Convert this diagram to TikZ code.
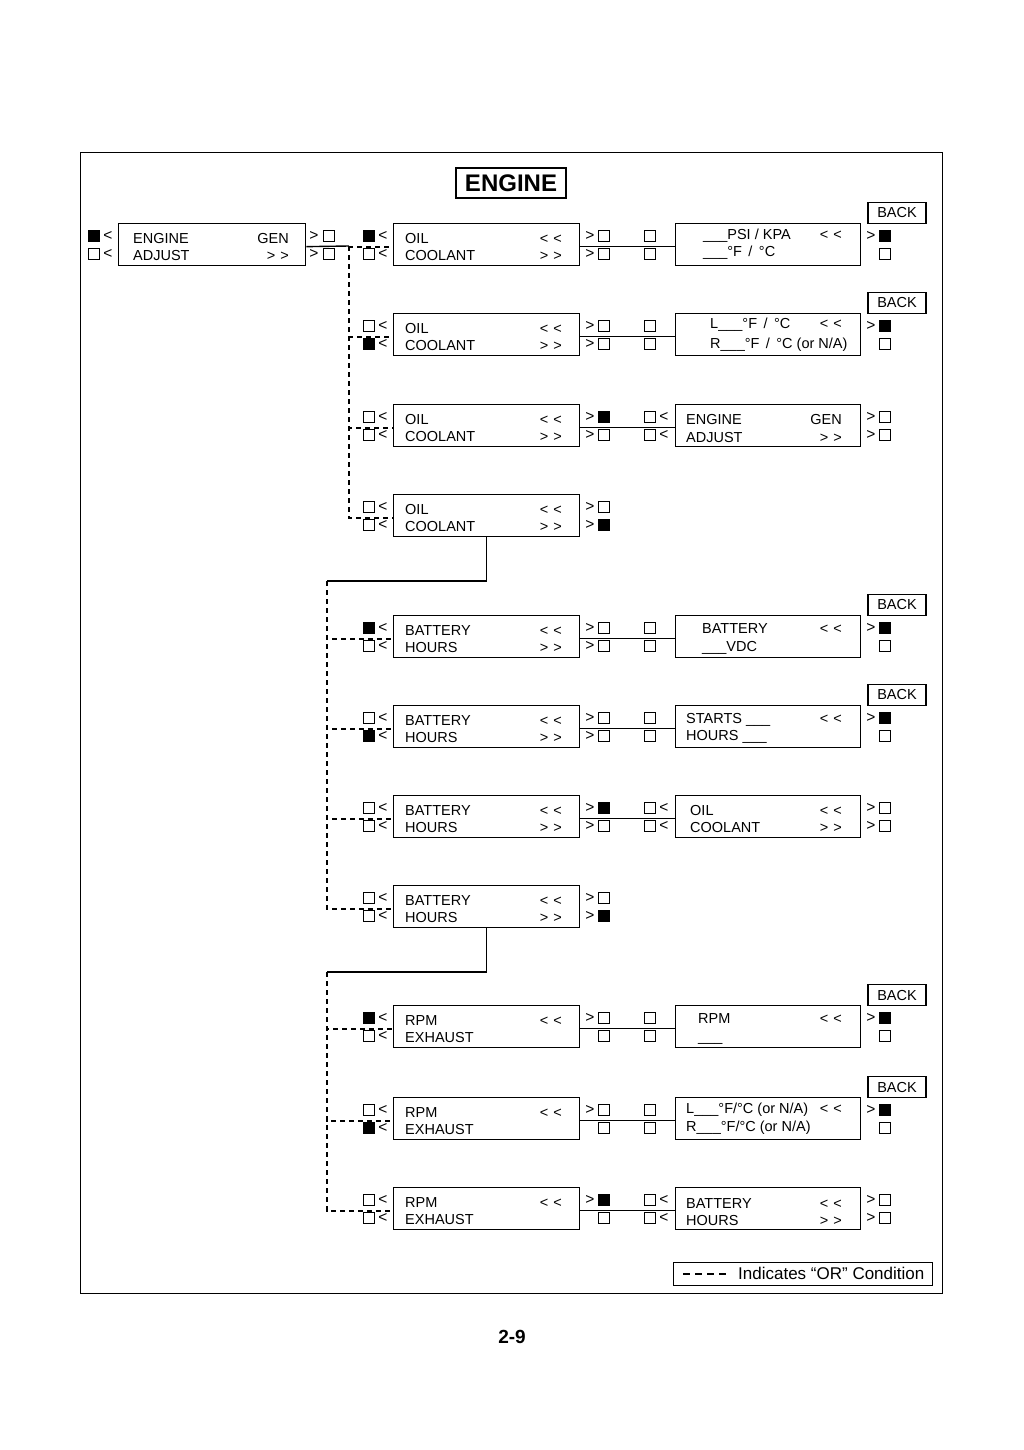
\documentclass[tikz,border=0pt]{standalone}
\usepackage{fontspec}
\setmainfont{Liberation Sans}
\tikzset{
  lcd/.style={draw, line width=1.3pt, minimum height=42pt, inner sep=0pt, anchor=north west},
  txt/.style={inner sep=0pt, anchor=base west, font=\fontsize{14.5}{16}\selectfont},
  gl/.style={inner sep=0pt, font=\fontsize{15.5}{17}\selectfont},
  sqe/.style={draw, line width=1.1pt, minimum size=11.5pt, inner sep=0pt},
  sqf/.style={sqe, fill=black},
  conn/.style={line width=1.4pt},
  orline/.style={line width=2pt, dash pattern=on 5pt off 4pt},
  backbox/.style={draw, line width=1.2pt, minimum width=58pt, minimum height=21pt, inner sep=0pt, font=\fontsize{14.5}{16}\selectfont},
}
\newcommand\dlt{<\hspace{5pt}<}
\newcommand\dgt{>\hspace{5pt}>}
% main column row: id, m, line1, line2, L1 style, L2 style, R1 style, R2 style, y/n (>> on line 2)
\newcommand\mainrow[9]{%
  \node[lcd, minimum width=186pt] (#1) at (393,{#2-23}) {};
  \node[txt] (#1-a) at (405,{#2-3}) {#3};
  \node[txt] (#1-b) at (405,{#2+14}) {#4};
  \node[txt, anchor=base east] (#1-c) at (562,{#2-3}) {\dlt};
  \ifx y#9\node[txt, anchor=base east] (#1-d) at (562,{#2+14}) {\dgt};\fi
  \node[#5] (#1-l1) at (369,{#2-10}) {};
  \node[gl] (#1-l1g) at (383,{#2-10}) {<};
  \node[#6] (#1-l2) at (369,{#2+8}) {};
  \node[gl] (#1-l2g) at (383,{#2+8}) {<};
  \node[gl] (#1-r1g) at (590,{#2-10}) {>};
  \node[#7] (#1-r1) at (604,{#2-10}) {};
  \ifx y#9\node[gl] (#1-r2g) at (590,{#2+8}) {>};\fi
  \node[#8] (#1-r2) at (604,{#2+8}) {};
}
% right box: id, m, text x, line1, baseline1, line2, baseline2, right1, right2
\newcommand\rbox[9]{%
  \node[lcd, minimum width=185pt] (#1) at (675,{#2-23}) {};
  \node[txt] (#1-a) at (#3,#5) {#4};
  \node[txt] (#1-b) at (#3,#7) {#6};
  \node[txt, anchor=base east] (#1-c) at (842,#5) {#8};
  \node[txt, anchor=base east] (#1-d) at (842,#7) {#9};
}
\newcommand\dispind[2]{%
  \node[sqe] (#1-m1) at (650,{#2-10}) {};
  \node[sqe] (#1-m2) at (650,{#2+8}) {};
  \node[gl] (#1-p1g) at (871,{#2-10}) {>};
  \node[sqf] (#1-p1) at (885,{#2-10}) {};
  \node[sqe] (#1-p2) at (885,{#2+8}) {};
  \node[backbox] (#1-back) at (897,{#2-33}) {BACK};
}
\newcommand\linkind[2]{%
  \node[sqe] (#1-m1) at (650,{#2-10}) {};
  \node[gl] (#1-m1g) at (664,{#2-10}) {<};
  \node[sqe] (#1-m2) at (650,{#2+8}) {};
  \node[gl] (#1-m2g) at (664,{#2+8}) {<};
  \node[gl] (#1-p1g) at (871,{#2-10}) {>};
  \node[sqe] (#1-p1) at (885,{#2-10}) {};
  \node[gl] (#1-p2g) at (871,{#2+8}) {>};
  \node[sqe] (#1-p2) at (885,{#2+8}) {};
}
\newcommand\hlink[2]{\draw[conn] ([yshift=-2pt]#1.east) -- ([yshift=-2pt]#2.west);}
\begin{document}
\begin{tikzpicture}[x=1pt, y=-1pt]
\useasboundingbox (0,0) rectangle (1024,1450);
% frame
\node[draw, line width=1.3pt, minimum width=862pt, minimum height=1141pt, anchor=north west, inner sep=0pt] (frame) at (80,152) {};
% title
\node[draw, line width=2.8pt, minimum width=110pt, minimum height=30pt, inner sep=0pt, font=\bfseries\fontsize{24}{26}\selectfont] (title) at (511,183) {ENGINE};
% page number
\node[font=\bfseries\fontsize{19}{22}\selectfont, inner sep=0pt] (pageno) at (512,1337) {2-9};

% top-left ENGINE box
\node[lcd, minimum width=187pt] (eng) at (118,223) {};
\node[txt] (eng-a) at (133,243) {ENGINE};
\node[txt] (eng-b) at (133,260) {ADJUST};
\node[txt, anchor=base east] (eng-c) at (289,243) {GEN};
\node[txt, anchor=base east] (eng-d) at (289,260) {\dgt};
\node[sqf] (eng-l1) at (94,236) {};
\node[gl] (eng-l1g) at (108,236) {<};
\node[sqe] (eng-l2) at (94,254) {};
\node[gl] (eng-l2g) at (108,254) {<};
\node[gl] (eng-r1g) at (314,236) {>};
\node[sqe] (eng-r1) at (329,236) {};
\node[gl] (eng-r2g) at (314,254) {>};
\node[sqe] (eng-r2) at (329,254) {};

% OIL / COOLANT column
\mainrow{oil1}{246}{OIL}{COOLANT}{sqf}{sqe}{sqe}{sqe}{y}
\mainrow{oil2}{336}{OIL}{COOLANT}{sqe}{sqf}{sqe}{sqe}{y}
\mainrow{oil3}{427}{OIL}{COOLANT}{sqe}{sqe}{sqf}{sqe}{y}
\mainrow{oil4}{517}{OIL}{COOLANT}{sqe}{sqe}{sqe}{sqf}{y}
% BATTERY / HOURS column
\mainrow{bat1}{638}{BATTERY}{HOURS}{sqf}{sqe}{sqe}{sqe}{y}
\mainrow{bat2}{728}{BATTERY}{HOURS}{sqe}{sqf}{sqe}{sqe}{y}
\mainrow{bat3}{818}{BATTERY}{HOURS}{sqe}{sqe}{sqf}{sqe}{y}
\mainrow{bat4}{908}{BATTERY}{HOURS}{sqe}{sqe}{sqe}{sqf}{y}
% RPM / EXHAUST column
\mainrow{rpm1}{1028}{RPM}{EXHAUST}{sqf}{sqe}{sqe}{sqe}{n}
\mainrow{rpm2}{1120}{RPM}{EXHAUST}{sqe}{sqf}{sqe}{sqe}{n}
\mainrow{rpm3}{1210}{RPM}{EXHAUST}{sqe}{sqe}{sqf}{sqe}{n}

% right-hand displays
\rbox{r1}{246}{703}{\_\_\_PSI / KPA}{239}{\_\_\_°F \,/\, °C}{256}{\dlt}{}
\dispind{r1}{246}
\rbox{r2}{336}{710}{L\_\_\_°F \,/\, °C}{328}{R\_\_\_°F \,/\, °C (or N/A)}{348}{\dlt}{}
\dispind{r2}{336}
\rbox{r3}{427}{686}{ENGINE}{424}{ADJUST}{442}{GEN}{\dgt}
\linkind{r3}{427}
\rbox{r5}{638}{702}{BATTERY}{633}{\_\_\_VDC}{651}{\dlt}{}
\dispind{r5}{638}
\rbox{r6}{728}{686}{STARTS \_\_\_}{723}{HOURS \_\_\_}{740}{\dlt}{}
\dispind{r6}{728}
\rbox{r7}{818}{690}{OIL}{815}{COOLANT}{832}{\dlt}{\dgt}
\linkind{r7}{818}
\rbox{r8}{1028}{698}{RPM}{1023}{\_\_\_}{1041}{\dlt}{}
\dispind{r8}{1028}
\rbox{r9}{1120}{686}{L\_\_\_°F/°C (or N/A)}{1113}{R\_\_\_°F/°C (or N/A)}{1131}{\dlt}{}
\dispind{r9}{1120}
\rbox{r10}{1210}{686}{BATTERY}{1208}{HOURS}{1225}{\dlt}{\dgt}
\linkind{r10}{1210}

% solid links main -> right
\hlink{oil1}{r1}
\hlink{oil2}{r2}
\hlink{oil3}{r3}
\hlink{bat1}{r5}
\hlink{bat2}{r6}
\hlink{bat3}{r7}
\hlink{rpm1}{r8}
\hlink{rpm2}{r9}
\hlink{rpm3}{r10}

% OR branching
\coordinate (j1) at (349,246);
\coordinate (j2) at (327,581);
\coordinate (j3) at (327,972);
\draw[conn] ([yshift=-2pt]eng.east) -- (j1);
\foreach \n in {oil1,oil2,oil3,oil4}{\draw[orline] (j1) |- ([yshift=-2pt]\n.west);}
\draw[conn] (oil4.south) |- (j2);
\foreach \n in {bat1,bat2,bat3,bat4}{\draw[orline] (j2) |- ([yshift=-2pt]\n.west);}
\draw[conn] (bat4.south) |- (j3);
\foreach \n in {rpm1,rpm2,rpm3}{\draw[orline] (j3) |- ([yshift=-2pt]\n.west);}

% legend
\node[draw, line width=1.3pt, minimum width=259pt, minimum height=23pt, anchor=north west, inner sep=0pt] (legend) at (673,1262) {};
\coordinate (lg1) at (683,1274);
\coordinate (lg2) at (729,1274);
\draw[line width=2pt, dash pattern=on 7pt off 5pt] (lg1) -- (lg2);
\node[inner sep=0pt, anchor=base west, font=\fontsize{17}{19}\selectfont] (legendtxt) at (738,1279) {Indicates “OR” Condition};
\end{tikzpicture}
\end{document}
